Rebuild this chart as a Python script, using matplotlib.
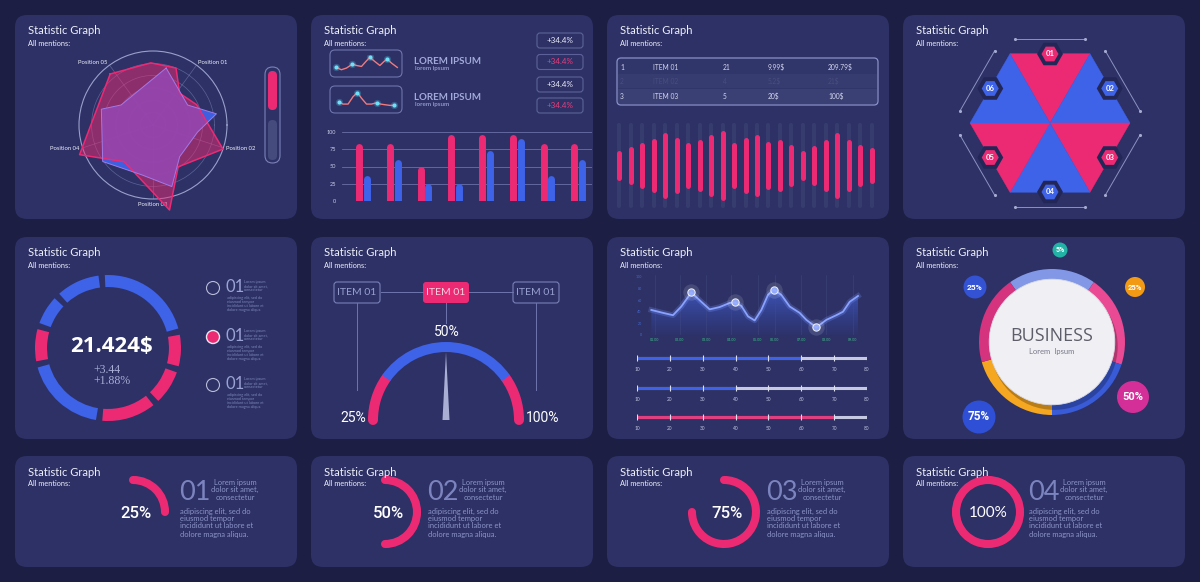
import numpy as np
import matplotlib
matplotlib.use('Agg')
import matplotlib.pyplot as plt
from matplotlib.patches import FancyBboxPatch, Circle, Polygon, RegularPolygon, Arc, Rectangle
from matplotlib.colors import LinearSegmentedColormap

plt.rcParams['font.family'] = ['Lato', 'DejaVu Sans']

BG = '#1c1e44'
PANEL = '#2d3165'
PINK = '#ec2a74'
BLUE = '#3e62e8'
WHITE = '#eef0fa'
MUTED = '#8c93c8'
LINE = '#6f75ad'

# ---- data ----
radar_labels = ['Position 01', 'Position 02', 'Position 03', 'Position 04', 'Position 05']
radar_pink_deg = [130, 92, 68, 50, 25, -19, -59, -79, -128, -158]
radar_pink_val = [90, 84, 83, 56, 65, 100, 66, 117, 63, 107]
radar_blue_deg = [77, 30, 10, -9, -50, -73, -103, -144, 163, 148]
radar_blue_val = [79, 54, 87, 61, 56, 87, 69, 84, 73, 51]

spark1_x = [80, 95, 110, 128, 140, 155, 168, 180, 195, 210, 222, 232, 245, 262]
spark1_y = [42, 35, 40, 52, 48, 45, 60, 73, 60, 48, 60, 67, 55, 42]
spark1_dots = [0, 3, 7, 11]
spark2_x = [88, 100, 115, 130, 143, 155, 170, 185, 200, 212, 225, 240, 253]
spark2_y = [38, 32, 32, 55, 67, 50, 32, 32, 36, 32, 30, 28, 28]
spark2_dots = [0, 4, 8, 12]
pct_labels = ['+34.4%', '+34.4%', '+34.4%', '+34.4%']

bar_ticks = [0, 25, 50, 75, 100]
bar_pink = [83, 83, 50, 96, 96, 96, 83, 83]
bar_blue = [37, 60, 26, 26, 73, 91, 37, 60]

table_rows = [['1', 'ITEM 01', '21', '9.99$', '209.79$'],
              ['2', 'ITEM 02', '4', '5.2$', '21$'],
              ['3', 'ITEM 03', '5', '20$', '100$']]
wave_vals = [35, 43, 53, 63, 76, 64, 53, 60, 71, 81, 53, 64, 71, 55, 60, 49, 35, 47, 60, 76, 60, 49, 42]

hex_labels = ['01', '02', '03', '04', '05', '06']
hex_colors = [PINK, BLUE, PINK, BLUE, PINK, BLUE]

donut_sizes = [82, 30, 32, 48, 70, 30.5, 28, 39.5]
donut_colors = [BLUE, PINK, PINK, PINK, BLUE, PINK, BLUE, BLUE]
donut_value = '21.424$'
donut_changes = ['+3.44', '+1.88%']
radio_numbers = ['01', '01', '01']
radio_active = 1

gauge_bounds = [0, 35, 145, 180]
gauge_colors = [PINK, BLUE, PINK]
gauge_value = 50
gauge_labels = ['25%', '50%', '100%']
gauge_items = ['ITEM 01', 'ITEM 01', 'ITEM 01']
gauge_active = 1

line_x = [65, 100, 130, 155, 185, 215, 240, 270, 300, 315, 335, 355, 375, 395, 415, 432,
          455, 480, 510, 530, 560, 590, 620, 640, 660, 685]
line_y = [43, 38, 34, 49, 73, 57, 44, 48, 55, 56, 50, 32, 25, 43, 69, 78,
          69, 49, 38, 26, 13, 26, 34, 40, 57, 67]
line_marks = [4, 9, 15, 20]
line_xticks = [75, 150, 230, 305, 385, 435, 515, 590, 670]
line_xlabels = ['01.00', '02.00', '03.00', '04.00', '05.00', '06.00', '07.00', '08.00', '09.00']
line_yticks = [0, 20, 40, 60, 80, 100]
progress_ticks = [10, 20, 30, 40, 50, 60, 70, 80]
progress_vals = [60, 40, 70]
progress_colors = [BLUE, BLUE, '#e03f7f']

ring_sizes = [70, 73, 72, 74, 71]
ring_colors = ['#8298e6', '#ea4a93', '#3a5bd8', '#f6a722', '#d6337f']
bubble_labels = ['5%', '25%', '25%', '50%', '75%']
bubble_colors = ['#22b3a6', '#3352d4', '#f39a14', '#d42f99', '#2f50d6']

ring_pcts = [25, 50, 75, 100]
ring_nums = ['01', '02', '03', '04']
lorem_lines = ['Lorem ipsum', 'dolor sit amet,', 'consectetur', 'adipiscing elit, sed do',
               'eiusmod tempor', 'incididunt ut labore et', 'dolore magna aliqua.']

# ---- canvas ----
W, H = 1200, 582
fig = plt.figure(figsize=(12, 5.82), dpi=100)
fig.patch.set_facecolor(BG)
base = fig.add_axes([0, 0, 1, 1])
base.set_xlim(0, W)
base.set_ylim(0, H)
base.axis('off')


def py(y):
    return H - y


def sub(x, y, w, h, **kw):
    ax = fig.add_axes([x / W, 1 - (y + h) / H, w / W, h / H], **kw)
    ax.set_facecolor('none')
    return ax


def rbox(x, y, w, h, r, **kw):
    p = FancyBboxPatch((x, py(y + h)), w, h, boxstyle='round,pad=0,rounding_size=%s' % r, **kw)
    base.add_patch(p)
    return p


def txt(x, y, s, **kw):
    kw.setdefault('ha', 'center')
    kw.setdefault('va', 'center')
    return base.text(x, py(y), s, **kw)


col_x = [15, 311, 607, 903]
row_y = [15, 237, 456]
row_h = [204, 202, 111]
for y0, h in zip(row_y, row_h):
    for x0 in col_x:
        rbox(x0, y0, 282, h, 12, fc=PANEL, ec='none')
        txt(x0 + 13, y0 + 16, 'Statistic Graph', ha='left', fontsize=8, color=WHITE)
        txt(x0 + 13, y0 + 28, 'All mentions:', ha='left', fontsize=5.3, color=WHITE)

# ---- panel 1: radar ----
ax = sub(79, 51, 148, 148, polar=True)
axis_deg = (54 - 72 * np.arange(5)) % 360
ax.set_ylim(0, 100)
ax.set_rgrids([17, 33, 50, 67, 83], labels=[''] * 5)
ax.set_thetagrids(axis_deg, labels=[''] * 5)
ax.grid(True, color='#7e84b8', lw=0.5, alpha=0.6)
ax.spines['polar'].set_color('#9aa0cc')
ax.spines['polar'].set_linewidth(0.8)
for p in ax.fill(np.radians(radar_blue_deg), radar_blue_val, fc=BLUE, alpha=0.95, zorder=3):
    p.set_clip_on(False)
for p in ax.fill(np.radians(radar_pink_deg), radar_pink_val, fc=PINK, alpha=0.5, zorder=4):
    p.set_clip_on(False)
th = np.radians(radar_pink_deg + radar_pink_deg[:1])
ax.plot(th, radar_pink_val + radar_pink_val[:1], color=PINK, lw=1.1, zorder=5, clip_on=False)
th = np.radians(radar_blue_deg + radar_blue_deg[:1])
ax.plot(th, radar_blue_val + radar_blue_val[:1], color='#a07ae8', lw=0.7, zorder=5, clip_on=False)
for d, lab in zip(axis_deg, radar_labels):
    c, s = np.cos(np.radians(d)), np.sin(np.radians(d))
    ha = 'left' if c > 0.3 else ('right' if c < -0.3 else 'center')
    va = 'top' if s < -0.9 else 'center'
    ax.text(np.radians(d), 104, lab, ha=ha, va=va, fontsize=4.2, color=WHITE, clip_on=False)
# slider
rbox(265, 67, 15, 96, 7.5, fc='none', ec='#7c82b8', lw=0.8)
rbox(268, 71, 9, 39, 4.5, fc=PINK, ec='none')
rbox(268, 120, 9, 40, 4.5, fc='#464b7e', ec='none')

# ---- panel 2: sparklines, boxes, bars ----
for by in (50, 86):
    rbox(330, by, 72, 27, 5, fc='none', ec=LINE, lw=0.8)
for k, (sx, sy, dots, ay, lo) in enumerate([(spark1_x, spark1_y, spark1_dots, 55, 25),
                                            (spark2_x, spark2_y, spark2_dots, 90, 20)]):
    sa = sub(333, ay, 67, 18)
    sa.set_xlim(70, 270)
    sa.set_ylim(lo, lo + 55)
    sa.axis('off')
    sa.plot(sx, sy, color='#f07a7e', lw=1.0)
    sa.scatter([sx[i] for i in dots], [sy[i] for i in dots], s=28, color='#56d8f4', alpha=0.25, lw=0)
    sa.scatter([sx[i] for i in dots], [sy[i] for i in dots], s=9, color='#6fe0f8', lw=0, zorder=3)
for ty in (61, 97):
    txt(414, ty, 'LOREM IPSUM', ha='left', fontsize=7, weight='bold', color='#a3aadb')
    txt(415, ty + 7.5, 'lorem ipsum', ha='left', fontsize=4.5, weight='bold', color='#8f96c8')
for k, (lab, cy) in enumerate(zip(pct_labels, [40.5, 62, 84.5, 105.5])):
    rbox(537, cy - 7.5, 46, 15, 3, fc='none', ec='#5c6299', lw=0.8)
    txt(560, cy, lab, fontsize=5.8, color=WHITE if k % 2 == 0 else '#e8407e')

ax = sub(342, 132, 250, 69)
ax.set_ylim(0, 100)
ax.set_xlim(-0.68, 7.45)
ax.set_yticks(bar_ticks)
ax.set_xticks([])
ax.yaxis.grid(True, color='#6a70a6', lw=0.6)
ax.set_axisbelow(True)
ax.tick_params(axis='y', length=0, labelsize=4, labelcolor='#c8ccea', pad=4)
for sp in ax.spines.values():
    sp.set_visible(False)
gx = np.arange(len(bar_pink))
ax.vlines(gx - 0.125, 0, np.array(bar_pink) - 5, color=PINK, lw=5, capstyle='round', zorder=3)
ax.vlines(gx + 0.125, 0, np.array(bar_blue) - 5, color=BLUE, lw=5, capstyle='round', zorder=3)

# ---- panel 3: table and wave ----
rbox(617, 58, 261, 47, 4, fc='#30356a', ec='none')
base.add_patch(Rectangle((618, py(88)), 259, 14, fc='#363b70', ec='none'))
base.add_patch(Rectangle((618, py(104)), 259, 15.5, fc='#3a3f74', ec='none'))
rbox(617, 58, 261, 47, 4, fc='none', ec='#8a90c8', lw=0.9)
for row, ry in zip(table_rows, [67, 81, 96.5]):
    for cell, cx in zip(row, [620, 653, 723, 768, 828]):
        txt(cx, ry, cell, ha='left', fontsize=4.8, color='#d4d8f0',
            alpha=0.12 if row[0] == '2' else 1)

ax = sub(612, 123, 267, 85)
ax.set_xlim(-0.61, 22.61)
ax.set_ylim(-100, 100)
ax.axis('off')
wx = np.arange(len(wave_vals))
ax.vlines(wx, -95, 95, color='#373c6f', lw=3, capstyle='round')
ax.vlines(wx, -np.array(wave_vals) + 5, np.array(wave_vals) - 5, color=PINK, lw=3.6, capstyle='round')

# ---- panel 4: hexagon ----
hcx, hcy, R = 1050, py(123), 80
for k, (lab, col) in enumerate(zip(hex_labels, hex_colors)):
    a0, a1 = np.radians(60 - 60 * k), np.radians(120 - 60 * k)
    base.add_patch(Polygon([(hcx, hcy), (hcx + R * np.cos(a0), hcy + R * np.sin(a0)),
                            (hcx + R * np.cos(a1), hcy + R * np.sin(a1))],
                           closed=True, fc=col, ec=col, lw=0.3))
for k, (lab, col) in enumerate(zip(hex_labels, hex_colors)):
    am = np.radians(90 - 60 * k)
    bx, by = hcx + 69 * np.cos(am), hcy + 69 * np.sin(am)
    base.add_patch(RegularPolygon((bx, by), 6, radius=13, orientation=np.pi / 6, fc='#232757', ec='none'))
    base.add_patch(RegularPolygon((bx, by), 6, radius=8.5, orientation=np.pi / 6, fc=col, ec='none'))
    base.text(bx, by, lab, ha='center', va='center', fontsize=5.5, weight='bold', color='white')
    ux, uy = np.cos(am), np.sin(am)
    tx, ty = -uy, ux
    cx, cy = hcx + 84 * ux, hcy + 84 * uy
    xs = [cx - 35 * tx, cx + 35 * tx]
    ys = [cy - 35 * ty, cy + 35 * ty]
    base.plot(xs, ys, color='#8c92c2', lw=0.7)
    base.scatter(xs, ys, s=5, color='#a4aad2', lw=0, zorder=3)

# ---- panel 5: segmented donut ----
ax = sub(35, 275, 146, 146)
gap = 5
vals, cols = [], []
for s, c in zip(donut_sizes, donut_colors):
    vals += [s - gap, gap]
    cols += [c, 'none']
ax.pie(vals, colors=cols, startangle=95 - gap / 2, counterclock=False, radius=1,
       wedgeprops=dict(width=0.165, linewidth=0))
ax.set_xlim(-1, 1)
ax.set_ylim(-1, 1)
txt(112, 346, donut_value, fontsize=16, weight='bold', color='white', family=['Open Sans', 'DejaVu Sans'])
for k, s in enumerate(donut_changes):
    txt(93, 370 + 11 * k, s, ha='left', fontsize=8.5, color='#a8aed6', family=['Liberation Serif', 'DejaVu Serif'])
for k, (num, cy) in enumerate(zip(radio_numbers, [288, 337, 385])):
    if k == radio_active:
        base.add_patch(Circle((213, py(cy)), 6.5, fc=PINK, ec='#e8e8f4', lw=1))
    else:
        base.add_patch(Circle((213, py(cy)), 6.5, fc='none', ec='#b8bcd8', lw=0.8))
    txt(226, cy - 1, num, ha='left', fontsize=12, color='#9ba2d4')
    for j, (line, dy) in enumerate(zip(lorem_lines, [-6, -2, 2, 10, 14, 18, 22])):
        if j < 3:
            txt(244, cy + dy, line, ha='left', fontsize=2.7, color='#8088bb')
        else:
            txt(227, cy + dy, line, ha='left', fontsize=2.7, color='#8088bb')

# ---- panel 6: gauge ----
gcx, gcy, gr = 446, py(420), 73
n = len(gauge_colors)
order = [0, n - 1] + list(range(1, n - 1))
for i in order:
    cap = 'round' if i in (0, n - 1) else 'butt'
    base.add_patch(Arc((gcx, gcy), 2 * gr, 2 * gr, theta1=gauge_bounds[i], theta2=gauge_bounds[i + 1],
                       color=gauge_colors[i], lw=7.2, capstyle=cap))
na = np.radians(180 - 1.8 * gauge_value)
base.add_patch(Polygon([(gcx - 3.5 * np.sin(na), gcy + 3.5 * np.cos(na)),
                        (gcx + 3.5 * np.sin(na), gcy - 3.5 * np.cos(na)),
                        (gcx + 68 * np.cos(na), gcy + 68 * np.sin(na))], closed=True,
                       fc='#a9aed4', ec='none'))
for lab, (lx, ly) in zip(gauge_labels, [(353, 418), (447, 332), (543, 418)]):
    txt(lx, ly, lab, fontsize=10, color='white', family=['Roboto', 'DejaVu Sans'])
base.plot([381, 423], [py(292)] * 2, color=LINE, lw=0.7)
base.plot([469, 513], [py(292)] * 2, color=LINE, lw=0.7)
for k, (lab, bx) in enumerate(zip(gauge_items, [334, 423, 513])):
    if k == gauge_active:
        rbox(bx, 282, 46, 21, 3, fc=PINK, ec='none')
        base.plot([bx + 23] * 2, [py(303), py(323)], color=LINE, lw=0.7)
        txt(bx + 23, 292.5, lab, fontsize=7.5, color='#fbd0e0')
    else:
        rbox(bx, 282, 46, 21, 3, fc='none', ec='#7a80b8', lw=0.8)
        base.plot([bx + 23] * 2, [py(303), py(390)], color=LINE, lw=0.7)
        txt(bx + 23, 292.5, lab, fontsize=7.5, color='#9aa0d2')

# ---- panel 7: line chart and progress bars ----
ax = sub(643, 275, 220, 60)
fill = ax.fill_between(line_x, line_y, 0, color='none')
cmap = LinearSegmentedColormap.from_list('g', [(0.22, 0.33, 0.82, 0.05), (0.30, 0.45, 0.95, 0.8)])
im = ax.imshow(np.linspace(0, 1, 100).reshape(-1, 1), extent=[40, 700, 0, 103], origin='lower',
               cmap=cmap, aspect='auto', zorder=1)
im.set_clip_path(fill.get_paths()[0], transform=ax.transData)
ax.plot(line_x, line_y, color='#7b96ff', lw=4, alpha=0.25, zorder=2)
ax.plot(line_x, line_y, color='#8aa2ff', lw=1.3, zorder=3)
mx = [line_x[i] for i in line_marks]
my = [line_y[i] for i in line_marks]
ax.scatter(mx, my, s=140, color='white', alpha=0.12, lw=0, zorder=4)
ax.scatter(mx, my, s=28, fc='#9ab0ff', ec='white', lw=0.7, alpha=0.9, zorder=5)
ax.set_xlim(40, 700)
ax.set_ylim(0, 103)
ax.set_xticks(line_xticks, line_xlabels)
ax.set_yticks(line_yticks)
ax.xaxis.grid(True, color='#4a5088', lw=0.4, alpha=0.6)
ax.tick_params(axis='x', length=0, labelsize=2.6, labelcolor='#3cbf86', pad=2)
ax.tick_params(axis='y', length=0, labelsize=2.6, labelcolor='#4a6ad0', pad=1)
for sp in ax.spines.values():
    sp.set_visible(False)
for val, col, cy in zip(progress_vals, progress_colors, [358, 388, 417]):
    pa = sub(637, cy - 8, 230, 16)
    pa.set_xlim(10, 80)
    pa.set_ylim(-1, 1)
    pa.hlines(0, 10, 80, color='#c6c9e2', lw=2.2)
    pa.hlines(0, 10, val, color=col, lw=2.2)
    pa.vlines(progress_ticks, -0.4, 0.4, color='#dcdff0', lw=0.8)
    pa.set_xticks(progress_ticks)
    pa.set_yticks([])
    pa.tick_params(axis='x', length=0, labelsize=3.4, labelcolor='#c0c4e0', pad=1)
    for sp in pa.spines.values():
        sp.set_visible(False)

# ---- panel 8: business ring ----
ax = sub(979, 269, 146, 146)
ax.pie(ring_sizes, colors=ring_colors, startangle=125, counterclock=False, radius=1,
       wedgeprops=dict(width=0.16, linewidth=0))
ax.add_patch(Circle((0.03, -0.06), 0.87, fc='black', alpha=0.25, ec='none'))
ax.add_patch(Circle((0, 0), 0.86, fc='#f0f0f4', ec='#dcdce6', lw=0.6))
ax.text(0, 0.08, 'BUSINESS', ha='center', va='center', fontsize=13, color='#5e5e6a',
        family=['Open Sans', 'DejaVu Sans'])
ax.text(0, -0.13, 'Lorem  Ipsum', ha='center', va='center', fontsize=5.5, color='#77778a')
ax.set_xlim(-1, 1)
ax.set_ylim(-1, 1)
for lab, col, (bx, by, br, fs) in zip(bubble_labels, bubble_colors,
                                      [(1060, 250, 7.5, 5), (975, 287, 11.5, 6), (1135, 287, 10, 5.5),
                                       (1133, 397, 16, 8), (979, 417, 16.5, 8.5)]):
    base.add_patch(Circle((bx, py(by)), br, fc=col, ec='none'))
    txt(bx, by, lab, fontsize=fs, weight='bold', color='white', family=['Roboto', 'DejaVu Sans'])

# ---- row 3: ring progress ----
for pct, num, cx, nx in zip(ring_pcts, ring_nums, [133, 385, 724, 988], [180, 428, 767, 1029]):
    base.add_patch(Arc((cx, py(512)), 64, 64, theta1=90 - 3.6 * pct, theta2=90,
                       color=PINK, lw=5.8, capstyle='round'))
    if pct == 100:
        txt(cx, 513, '%d%%' % pct, fontsize=11, color='white')
    else:
        txt(cx + 3, 513, '%d%%' % pct, fontsize=12, weight='medium', color='white',
            family=['Roboto', 'DejaVu Sans'])
    txt(nx - 1, 492, num, ha='left', fontsize=19.5, color='#7c84bf')
    for j, (line, dy) in enumerate(zip(lorem_lines, [26, 33.5, 41, 55, 62.5, 70, 78])):
        if j < 3:
            txt(nx + 55, 456 + dy, line, fontsize=5.4, color='#8d94c9')
        else:
            txt(nx, 456 + dy, line, ha='left', fontsize=5.4, color='#8d94c9')

fig.savefig('out.png', dpi=100, facecolor=BG)
